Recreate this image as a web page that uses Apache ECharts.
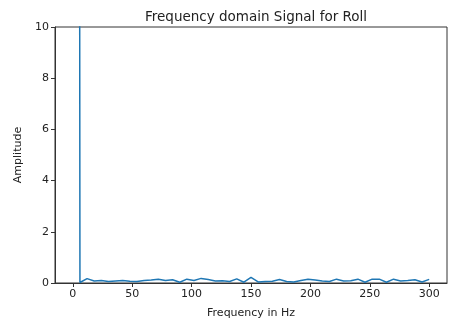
<!DOCTYPE html>
<html>
<head>
<meta charset="utf-8">
<script src="https://cdn.jsdelivr.net/npm/echarts@6/dist/echarts.min.js"></script>
<style>
html, body { margin: 0; padding: 0; background: #fff; }
#chart { width: 474px; height: 331px; }
</style>
</head>
<body>
<div id="chart"></div>
<script>
// frequency bins (Hz) and amplitudes
var freqs = [0, 6, 12, 18, 24, 30, 36, 42, 48, 54, 60, 66, 72, 78, 84, 90, 96, 102, 108, 114,
    120, 126, 132, 138, 144, 150, 156, 162, 168, 174, 180, 186, 192, 198, 204, 210, 216, 222, 228, 234,
    240, 246, 252, 258, 264, 270, 276, 282, 288, 294, 300];
var amplitude = [300, 0.02, 0.17, 0.08, 0.1, 0.06, 0.08, 0.1, 0.07, 0.06, 0.1, 0.12, 0.15, 0.1, 0.13, 0.03, 0.15, 0.1, 0.18, 0.14,
    0.08, 0.09, 0.06, 0.16, 0.03, 0.22, 0.04, 0.06, 0.07, 0.14, 0.06, 0.04, 0.1, 0.15, 0.12, 0.08, 0.06, 0.15, 0.08, 0.09,
    0.15, 0.03, 0.15, 0.15, 0.03, 0.15, 0.08, 0.1, 0.13, 0.04, 0.14];
var xTicks = [0, 50, 100, 150, 200, 250, 300];

var chart = echarts.init(document.getElementById('chart'));
var font = 'DejaVu Sans';
var option = {
    animation: false,
    title: {
        text: 'Frequency domain Signal for Roll',
        left: 251, top: 5, textAlign: 'center',
        textStyle: { fontFamily: font, fontSize: 13.5, fontWeight: 'normal', color: '#222' }
    },
    grid: {
        left: 55, right: 27, top: 27, bottom: 48,
        show: true, borderColor: '#333', borderWidth: 1, backgroundColor: '#fff'
    },
    xAxis: {
        type: 'value', min: -15, max: 315,
        name: 'Frequency in Hz', nameLocation: 'middle', nameGap: 25,
        nameTextStyle: { fontFamily: font, fontSize: 11, color: '#222' },
        axisLine: { show: true, onZero: false, lineStyle: { color: '#333' } },
        axisTick: { show: true, length: 4, customValues: xTicks, lineStyle: { color: '#333' } },
        axisLabel: { customValues: xTicks, fontFamily: font, fontSize: 11, color: '#222', margin: 6 },
        splitLine: { show: false }
    },
    yAxis: {
        type: 'value', min: 0, max: 10, interval: 2,
        name: 'Amplitude', nameLocation: 'middle', nameGap: 31,
        nameTextStyle: { fontFamily: font, fontSize: 11, color: '#222' },
        axisLine: { show: true, onZero: false, lineStyle: { color: '#333' } },
        axisTick: { show: true, length: 4, lineStyle: { color: '#333' } },
        axisLabel: { fontFamily: font, fontSize: 11, color: '#222', margin: 6 },
        splitLine: { show: false }
    },
    series: [{
        type: 'line',
        data: freqs.map(function (f, i) { return [f, amplitude[i]]; }),
        showSymbol: false,
        clip: true,
        lineStyle: { color: '#1f77b4', width: 1.5 },
        itemStyle: { color: '#1f77b4' }
    }]
};
chart.setOption(option);
</script>
</body>
</html>
